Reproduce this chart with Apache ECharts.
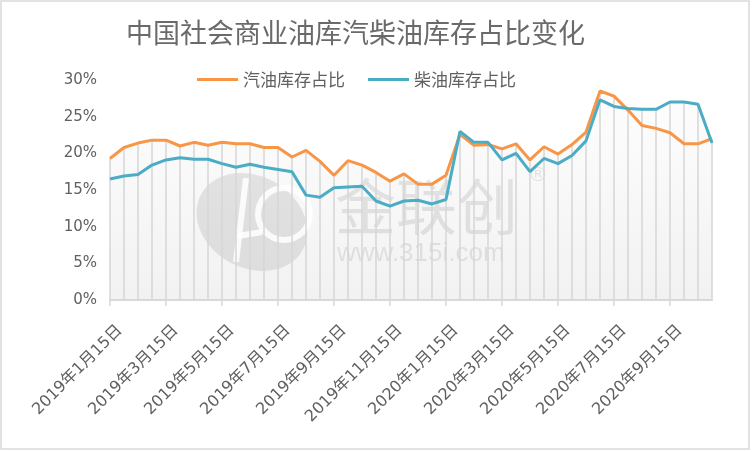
<!DOCTYPE html>
<html>
<head>
<meta charset="utf-8">
<script src="https://cdn.jsdelivr.net/npm/echarts@6/dist/echarts.min.js"></script>
<style>
  html, body { margin: 0; padding: 0; background: #fff; }
  #chart { width: 752px; height: 452px; }
</style>
</head>
<body>
<div id="chart"></div>
<script>
// semi-monthly readings, 2019-01-15 .. 2020-10-31
const dates = [
  '2019年1月15日', '2019年1月31日', '2019年2月15日', '2019年2月28日',
  '2019年3月15日', '2019年3月31日', '2019年4月15日', '2019年4月30日',
  '2019年5月15日', '2019年5月31日', '2019年6月15日', '2019年6月30日',
  '2019年7月15日', '2019年7月31日', '2019年8月15日', '2019年8月31日',
  '2019年9月15日', '2019年9月30日', '2019年10月15日', '2019年10月31日',
  '2019年11月15日', '2019年11月30日', '2019年12月15日', '2019年12月31日',
  '2020年1月15日', '2020年1月31日', '2020年2月15日', '2020年2月29日',
  '2020年3月15日', '2020年3月31日', '2020年4月15日', '2020年4月30日',
  '2020年5月15日', '2020年5月31日', '2020年6月15日', '2020年6月30日',
  '2020年7月15日', '2020年7月31日', '2020年8月15日', '2020年8月31日',
  '2020年9月15日', '2020年9月30日', '2020年10月15日', '2020年10月31日',
]

const gasoline = [
  19.3, 20.8, 21.4, 21.8, 21.8, 21.0, 21.5, 21.1, 21.5, 21.3,
  21.3, 20.8, 20.8, 19.5, 20.4, 18.9, 17.0, 19.0, 18.4, 17.4,
  16.2, 17.2, 15.8, 15.8, 17.0, 22.6, 21.1, 21.2, 20.6, 21.3,
  19.1, 20.9, 19.9, 21.2, 22.9, 28.5, 27.8, 25.9, 23.8, 23.4,
  22.8, 21.3, 21.3, 22.0,
]

const diesel = [
  16.5, 16.9, 17.1, 18.4, 19.1, 19.4, 19.2, 19.2, 18.6, 18.1,
  18.5, 18.1, 17.8, 17.5, 14.3, 14.0, 15.3, 15.4, 15.5, 13.5,
  12.8, 13.5, 13.6, 13.1, 13.7, 23.0, 21.5, 21.5, 19.1, 20.0,
  17.5, 19.3, 18.6, 19.7, 21.7, 27.3, 26.4, 26.1, 26.0, 26.0,
  27.0, 27.0, 26.7, 21.4,
]

const yTicks = { min: 0, max: 30, interval: 5 }

// the grey fill and the drop lines run up to whichever line is higher
const upper = gasoline.map((v, i) => Math.max(v, diesel[i]))

const grey = '#606060'
const chart = echarts.init(document.getElementById('chart'))

chart.setOption({
  animation: false,
  backgroundColor: '#fff',
  textStyle: { fontFamily: 'DejaVu Sans, Noto Sans CJK SC, sans-serif' },
  title: {
    text: '中国社会商业油库汽柴油库存占比变化',
    left: 126,
    top: 19,
    padding: 0,
    textStyle: {
      fontFamily: 'Noto Sans CJK SC',
      fontSize: 27,
      fontWeight: 'normal',
      color: '#6a6a6a',
    },
  },
  legend: {
    data: ['汽油库存占比', '柴油库存占比'],
    left: 197,
    top: 71,
    padding: 0,
    icon: 'rect',
    itemWidth: 41,
    itemHeight: 3,
    itemGap: 23,
    textStyle: { fontFamily: 'Noto Sans CJK SC', fontSize: 17, color: grey },
  },
  grid: { left: 110, right: 40, top: 80, bottom: 152 },
  xAxis: {
    type: 'category',
    data: dates,
    boundaryGap: false,
    axisLine: { lineStyle: { color: '#d9d9d9', width: 2 } },
    axisTick: { interval: 3, length: 6, lineStyle: { color: '#d9d9d9', width: 1.5 } },
    axisLabel: {
      interval: 3,
      rotate: 45,
      margin: 38,
      padding: [0, -14, 0, 0],
      fontSize: 16,
      color: grey,
    },
    splitLine: { show: false },
  },
  yAxis: {
    type: 'value',
    ...yTicks,
    axisLine: { show: false },
    axisTick: { show: false },
    splitLine: { show: false },
    axisLabel: { formatter: '{value}%', fontSize: 15, color: grey, margin: 13 },
  },
  graphic: {
    elements: [
      {
        type: 'rect',
        z: 10,
        shape: { x: 1, y: 1, width: 748, height: 448 },
        style: { fill: 'none', stroke: '#d9d9d9', lineWidth: 1.5 },
        silent: true,
      },
      // 金联创 watermark
      {
        type: 'group',
        z: 1,
        silent: true,
        children: [
          {
            type: 'ellipse',
            z: 1,
            rotation: -0.5,
            origin: [252, 222],
            shape: { cx: 252, cy: 222, rx: 58, ry: 46 },
            style: { fill: 'rgba(0,0,0,0.09)' },
          },
          {
            type: 'circle',
            z: 1,
            shape: { cx: 284, cy: 214, r: 26 },
            style: { fill: 'none', stroke: 'rgba(255,255,255,0.85)', lineWidth: 6 },
          },
          {
            type: 'polyline',
            z: 1,
            shape: { points: [[246, 178], [236, 262]] },
            style: { stroke: 'rgba(255,255,255,0.85)', lineWidth: 6 },
          },
          {
            type: 'polyline',
            z: 1,
            shape: { points: [[238, 236], [262, 232]] },
            style: { stroke: 'rgba(255,255,255,0.85)', lineWidth: 6 },
          },
          {
            type: 'text',
            z: 1,
            x: 335,
            y: 176,
            style: {
              text: '金联创',
              font: '61px "Noto Sans CJK SC"',
              fill: 'rgba(0,0,0,0.09)',
            },
          },
          {
            type: 'text',
            z: 1,
            x: 528,
            y: 166,
            style: { text: '®', font: '20px "DejaVu Sans"', fill: 'rgba(0,0,0,0.09)' },
          },
          {
            type: 'text',
            z: 1,
            x: 337,
            y: 241,
            style: {
              text: 'www.315i.com',
              font: '26px "Liberation Sans"',
              fill: 'rgba(0,0,0,0.09)',
            },
          },
        ],
      },
    ],
  },
  series: [
    {
      name: '__fill',
      type: 'line',
      data: upper,
      z: 0,
      symbol: 'none',
      silent: true,
      lineStyle: { opacity: 0 },
      areaStyle: {
        color: new echarts.graphic.LinearGradient(0, 0, 0, 1, [
          { offset: 0, color: '#fdfdfd' },
          { offset: 1, color: '#ececec' },
        ]),
      },
    },
    {
      name: '__drop',
      type: 'bar',
      data: upper,
      z: 1,
      barWidth: 1.5,
      silent: true,
      itemStyle: { color: '#d6d6d6' },
    },
    {
      name: '汽油库存占比',
      type: 'line',
      data: gasoline,
      z: 3,
      symbol: 'none',
      lineStyle: { color: '#f79646', width: 3 },
      itemStyle: { color: '#f79646' },
    },
    {
      name: '柴油库存占比',
      type: 'line',
      data: diesel,
      z: 4,
      symbol: 'none',
      lineStyle: { color: '#4bacc6', width: 3 },
      itemStyle: { color: '#4bacc6' },
    },
  ],
})
</script>
</body>
</html>
